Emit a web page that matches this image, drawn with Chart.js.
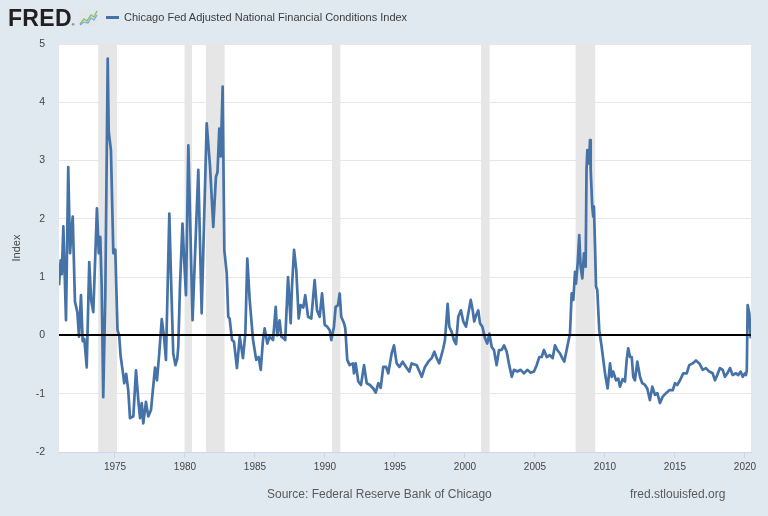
<!DOCTYPE html>
<html><head><meta charset="utf-8">
<script src="https://cdn.jsdelivr.net/npm/chart.js@4.4.1/dist/chart.umd.min.js"></script>
<style>
html,body{margin:0;padding:0;width:768px;height:516px;overflow:hidden;background:#e1e9f0;font-family:"Liberation Sans",Arial,sans-serif;}
#wrap{position:relative;width:768px;height:516px;}
canvas{position:absolute;left:0;top:0;}
.t{position:absolute;white-space:nowrap;}
#logo{left:8px;top:4px;font-weight:bold;font-size:23px;line-height:28px;color:#231f20;letter-spacing:0.3px;}
#logo span{font-size:4px;letter-spacing:0;}
#icon{position:absolute;left:79px;top:9px;}
#legline{position:absolute;left:106px;top:16px;width:13px;height:2.5px;background:#4572a7;}
#title{left:124px;top:10px;font-size:11px;line-height:14px;color:#3c3c3c;}
#src{left:267px;top:487px;font-size:12px;line-height:14px;color:#595959;}
#fred{left:630px;top:487px;font-size:12px;line-height:14px;color:#595959;}
</style></head>
<body><div id="wrap">
<canvas id="c" width="768" height="516"></canvas>
<div class="t" id="logo">FRED<span>®</span></div>
<svg id="icon" width="19" height="17" viewBox="0 0 19 17"><rect x="0" y="0" width="19" height="17" fill="#dfe7ec"/><polyline points="1,15 5,10 8,12 12,6 15,8 18,2" fill="none" stroke="#8cbf6e" stroke-width="1.4"/><polyline points="1,16 5,13 9,14 12,9 15,11 18,6" fill="none" stroke="#7aa3cf" stroke-width="1.1"/></svg>
<div id="legline"></div>
<div class="t" id="title">Chicago Fed Adjusted National Financial Conditions Index</div>
<div class="t" id="src">Source: Federal Reserve Bank of Chicago</div>
<div class="t" id="fred">fred.stlouisfed.org</div>
</div>
<script>
const years = [
1971.00,1971.12,1971.20,1971.31,1971.40,1971.50,1971.66,1971.79,1971.90,1971.98,1972.05,1972.14,
1972.31,1972.43,1972.57,1972.69,1972.81,1972.98,1973.16,1973.30,1973.45,1973.71,1973.84,1973.95,
1974.05,1974.16,1974.31,1974.48,1974.55,1974.71,1974.88,1975.02,1975.18,1975.30,1975.40,1975.59,
1975.66,1975.80,1975.95,1976.07,1976.20,1976.31,1976.50,1976.66,1976.79,1976.91,1977.02,1977.21,
1977.38,1977.57,1977.86,1978.00,1978.16,1978.34,1978.50,1978.64,1978.88,1979.00,1979.16,1979.32,
1979.45,1979.52,1979.64,1979.82,1979.93,1980.07,1980.24,1980.54,1980.68,1980.95,1981.19,1981.55,
1981.79,1982.02,1982.21,1982.32,1982.45,1982.55,1982.69,1982.81,1982.98,1983.09,1983.19,1983.36,
1983.50,1983.71,1983.91,1984.14,1984.31,1984.45,1984.62,1984.86,1985.09,1985.26,1985.41,1985.57,
1985.69,1985.88,1986.05,1986.29,1986.48,1986.59,1986.76,1986.88,1987.05,1987.16,1987.36,1987.55,
1987.64,1987.79,1987.95,1988.12,1988.26,1988.45,1988.59,1988.79,1989.02,1989.26,1989.43,1989.62,
1989.79,1989.98,1990.16,1990.34,1990.45,1990.64,1990.76,1990.93,1991.05,1991.16,1991.36,1991.45,
1991.59,1991.76,1992.00,1992.07,1992.19,1992.38,1992.57,1992.79,1992.98,1993.21,1993.45,1993.62,
1993.81,1993.98,1994.16,1994.36,1994.52,1994.76,1994.93,1995.12,1995.31,1995.55,1995.79,1996.02,
1996.19,1996.55,1996.91,1997.14,1997.38,1997.62,1997.81,1997.98,1998.16,1998.45,1998.57,1998.76,
1998.88,1999.05,1999.21,1999.36,1999.52,1999.71,1999.88,2000.07,2000.24,2000.41,2000.55,2000.66,
2000.80,2000.95,2001.07,2001.24,2001.43,2001.59,2001.74,2001.91,2002.07,2002.26,2002.43,2002.62,
2002.79,2002.98,2003.16,2003.34,2003.50,2003.74,2003.98,2004.21,2004.45,2004.69,2004.93,2005.12,
2005.31,2005.48,2005.64,2005.84,2006.07,2006.26,2006.43,2006.59,2006.79,2006.95,2007.09,2007.21,
2007.38,2007.50,2007.62,2007.74,2007.86,2007.93,2008.05,2008.16,2008.26,2008.38,2008.50,2008.62,
2008.68,2008.74,2008.86,2008.93,2008.98,2009.09,2009.16,2009.21,2009.29,2009.36,2009.45,2009.59,
2009.76,2009.88,2010.02,2010.19,2010.36,2010.48,2010.59,2010.79,2010.95,2011.07,2011.26,2011.43,
2011.55,2011.66,2011.79,2011.91,2012.02,2012.14,2012.31,2012.50,2012.66,2012.86,2013.02,2013.21,
2013.38,2013.57,2013.74,2013.93,2014.12,2014.36,2014.59,2014.84,2015.00,2015.16,2015.36,2015.59,
2015.84,2016.02,2016.26,2016.50,2016.74,2016.98,2017.21,2017.45,2017.69,2017.86,2018.02,2018.21,
2018.41,2018.57,2018.74,2018.93,2019.12,2019.36,2019.52,2019.69,2019.84,2020.00,2020.07,2020.13,
2020.19,2020.25,2020.31,2020.41
];
const values = [
0.86,1.29,1.05,1.87,1.10,0.26,2.89,1.41,1.80,2.04,1.40,0.58,
0.40,-0.02,0.69,-0.10,-0.06,-0.55,1.26,0.60,0.40,2.18,1.41,1.69,
0.83,-1.06,0.72,4.75,3.50,3.18,1.41,1.47,0.09,0.00,-0.35,-0.68,
-0.82,-0.66,-0.95,-1.42,-1.40,-1.39,-0.60,-1.10,-1.42,-1.16,-1.51,-1.14,
-1.39,-1.28,-0.55,-0.77,-0.31,0.28,-0.02,-0.42,2.09,1.00,-0.31,-0.51,
-0.40,-0.19,0.83,1.92,1.35,0.69,3.26,0.26,1.15,2.84,0.38,3.64,
2.89,1.86,2.72,2.80,3.55,3.07,4.27,1.46,1.07,0.32,0.29,-0.08,
-0.11,-0.56,-0.02,-0.39,0.03,1.32,0.61,-0.08,-0.42,-0.37,-0.59,-0.08,
0.12,-0.14,-0.02,-0.08,0.49,0.00,0.26,-0.02,-0.05,-0.08,1.00,0.21,
0.83,1.47,1.12,0.29,0.52,0.48,0.69,0.32,0.29,0.95,0.43,0.32,
0.72,0.18,0.15,0.09,-0.08,0.15,0.49,0.52,0.72,0.32,0.21,0.12,
-0.42,-0.51,-0.48,-0.65,-0.48,-0.79,-0.85,-0.51,-0.82,-0.85,-0.91,-0.98,
-0.82,-0.90,-0.54,-0.54,-0.65,-0.31,-0.17,-0.48,-0.54,-0.45,-0.54,-0.62,
-0.48,-0.51,-0.71,-0.54,-0.45,-0.39,-0.28,-0.39,-0.48,-0.22,-0.08,0.54,
0.15,0.06,-0.08,-0.15,0.32,0.43,0.24,0.15,0.38,0.61,0.43,0.24,
0.35,0.43,0.21,0.15,-0.05,-0.14,0.03,-0.20,-0.25,-0.51,-0.25,-0.25,
-0.17,-0.28,-0.51,-0.71,-0.59,-0.62,-0.59,-0.65,-0.59,-0.64,-0.62,-0.51,
-0.37,-0.37,-0.25,-0.37,-0.34,-0.39,-0.17,-0.25,-0.31,-0.39,-0.45,-0.31,
-0.11,0.03,0.72,0.61,1.09,0.89,1.24,1.72,1.18,0.98,1.41,1.18,
2.84,3.18,2.95,3.35,2.84,2.21,2.04,2.21,1.52,0.84,0.78,0.09,
-0.19,-0.42,-0.68,-0.91,-0.48,-0.71,-0.62,-0.77,-0.74,-0.88,-0.75,-0.79,
-0.42,-0.22,-0.37,-0.37,-0.71,-0.77,-0.45,-0.71,-0.82,-0.85,-0.91,-1.11,
-0.88,-1.02,-0.99,-1.16,-1.05,-0.99,-0.94,-0.94,-0.82,-0.85,-0.77,-0.65,
-0.65,-0.51,-0.48,-0.43,-0.48,-0.59,-0.56,-0.62,-0.65,-0.77,-0.68,-0.56,
-0.59,-0.71,-0.65,-0.56,-0.68,-0.65,-0.68,-0.62,-0.71,-0.65,-0.68,-0.60,
0.52,0.45,0.38,-0.05
];
const recessionStarts = [1973.80,1979.97,1981.50,1990.50,2001.15,2007.90];
const recessionEnds   = [1975.15,1980.50,1982.83,1991.10,2001.76,2009.30];
const xTickYears = [1975,1980,1985,1990,1995,2000,2005,2010,2015,2020];
const yTickValues = [-2,-1,0,1,2,3,4,5];

const points = years.map((x,i)=>({x:x, y:values[i]}));

const plotBg = {
  id:'plotBg',
  beforeDraw(chart){
    const {ctx, chartArea:a} = chart;
    ctx.save(); ctx.fillStyle='#ffffff';
    ctx.fillRect(a.left, a.top, a.right-a.left, a.bottom-a.top);
    ctx.restore();
  }
};
const recessionPlugin = {
  id:'recessions',
  beforeDatasetsDraw(chart){
    const {ctx, chartArea:a, scales:{x}} = chart;
    ctx.save(); ctx.fillStyle='#e6e6e6';
    recessionStarts.forEach((s,i)=>{
      const x0 = x.getPixelForValue(s), x1 = x.getPixelForValue(recessionEnds[i]);
      ctx.fillRect(x0, a.top, x1-x0, a.bottom-a.top);
    });
    ctx.restore();
  }
};
const zeroLine = {
  id:'zeroLine',
  afterDatasetsDraw(chart){
    const {ctx, chartArea:a, scales:{y}} = chart;
    const py = Math.round(y.getPixelForValue(0));
    ctx.save(); ctx.strokeStyle='#000000'; ctx.lineWidth=2;
    ctx.beginPath(); ctx.moveTo(a.left, py); ctx.lineTo(a.right, py); ctx.stroke();
    ctx.restore();
  }
};

new Chart(document.getElementById('c').getContext('2d'), {
  type:'line',
  data:{datasets:[{
    label:'Chicago Fed Adjusted National Financial Conditions Index',
    data:points, borderColor:'#4572a7', borderWidth:2.7, pointRadius:0,
    tension:0, fill:false, borderJoinStyle:'round'
  }]},
  options:{
    responsive:false, animation:false, devicePixelRatio:1,
    layout:{padding:{left:0, top:44, right:17, bottom:34}},
    plugins:{legend:{display:false}, tooltip:{enabled:false}},
    scales:{
      x:{
        type:'linear', min:1971.0, max:2020.43,
        afterBuildTicks:s=>{ s.ticks = xTickYears.map(v=>({value:v})); },
        afterFit:s=>{ s.height = 30; },
        grid:{drawOnChartArea:false, drawTicks:true, tickLength:6, color:'#ccd6eb'},
        border:{display:true, color:'#ccd6eb', width:1},
        ticks:{font:{family:'"Liberation Sans", Arial, sans-serif', size:10}, color:'#444444', padding:3, maxRotation:0, autoSkip:false, callback:v=>String(v)}
      },
      y:{
        min:-2, max:5,
        afterBuildTicks:s=>{ s.ticks = yTickValues.map(v=>({value:v})); },
        afterFit:s=>{ s.width = 59; },
        grid:{color:'#e6e6e6', lineWidth:1, drawTicks:false},
        border:{display:false},
        ticks:{font:{family:'"Liberation Sans", Arial, sans-serif', size:10.5}, color:'#444444', padding:14, callback:v=>String(v)},
        title:{display:true, text:'Index', font:{family:'"Liberation Sans", Arial, sans-serif', size:11}, color:'#444444', padding:{top:10, bottom:0}}
      }
    }
  },
  plugins:[plotBg, recessionPlugin, zeroLine]
});
</script>
</body></html>
